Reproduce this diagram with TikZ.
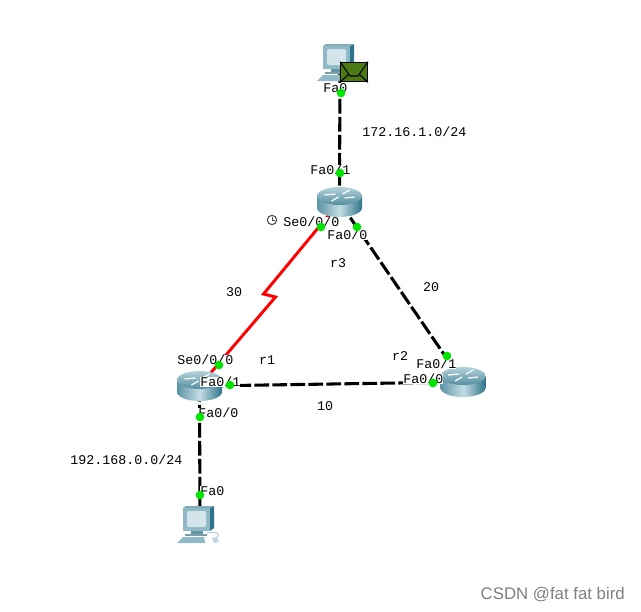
\documentclass[tikz,border=0pt]{standalone}
\usepackage{fontspec}
\setmainfont{Liberation Mono}
\newfontfamily\wmfont{Liberation Sans}
\usetikzlibrary{calc}
\definecolor{tealdk}{HTML}{2F7489}
\definecolor{teallt}{HTML}{C4DDE4}
\definecolor{topc}{HTML}{8FB9C6}
\definecolor{envgreen}{HTML}{4C7A12}
\tikzset{
  lbl/.style={font=\fontsize{10}{10}\selectfont,fill=white,inner sep=0pt,anchor=west,text=black},
  plain/.style={font=\fontsize{10}{10}\selectfont,inner sep=0pt,text=black},
  devicebox/.style={inner sep=0pt,minimum width=1pt,minimum height=1pt},
  eth/.style={black,line width=2.3pt,dash pattern=on 11pt off 2.5pt},
  serial/.style={red,line width=2.2pt},
  port/.style={circle,fill=green!90!black,inner sep=0pt,minimum size=6.5pt},
  routerarrow/.style={white,line width=.9pt}
}
\newcommand{\routericon}[2]{%
\begin{scope}[shift={(#1,#2)}]
  \shade[left color=tealdk!70!teallt,right color=tealdk,middle color=teallt]
    (-22.5,-6) -- (-22.5,6) arc[start angle=180,end angle=0,x radius=22.5,y radius=9] -- (22.5,-6) -- cycle;
  \shade[top color=teallt!70!topc,bottom color=tealdk!75!teallt] (0,-6) ellipse[x radius=22.5,y radius=9];
  \draw[routerarrow] (-15,-7) -- (-4,-8);
  \draw[routerarrow] (15,-5) -- (5,-4);
  \draw[routerarrow] (-1,-5) -- (-8,-1);
  \draw[routerarrow] (3,-8) -- (10,-12);
\end{scope}}
\newcommand{\pcicon}[2]{%
\begin{scope}[shift={(#1,#2)}]
  \fill[tealdk] (10,-17) -- (14,-19) -- (14,3) -- (10,6) -- cycle;
  \fill[tealdk!60!white] (-17,-17) -- (-14,-19) -- (14,-19) -- (10,-17) -- cycle;
  \fill[topc] (-17,-17) rectangle (10,6);
  \fill[teallt!75!white,rounded corners=1.5pt] (-13,-14) rectangle (6,2);
  \fill[tealdk!75!white] (-9,6) rectangle (3,9);
  \fill[topc!85!black] (-15,9) rectangle (7,11);
  \fill[topc] (-17,12) -- (4,12) -- (5,18) -- (-23,18) -- cycle;
  \draw[topc!70!white,line width=.8pt] (7,8) .. controls (16,6) and (22,9) .. (16,13);
  \fill[white!70!tealdk] (12,13) -- (17,12) -- (19,17) -- (14,18) -- cycle;
\end{scope}}
\begin{document}
\begin{tikzpicture}[x=0.75pt,y=-0.75pt]
\useasboundingbox (0,0) rectangle (641,611);
% device anchors
\node[devicebox] (pctop) at (340,62) {};
\node[devicebox] (r3) at (339.5,202) {};
\node[devicebox] (r1) at (199.5,386) {};
\node[devicebox] (r2) at (463,382) {};
\node[devicebox] (pcbot) at (200,525) {};
% connectors
\draw[eth] (pctop) -- (r3);
\draw[eth] (r3) -- (r2);
\draw[eth] (r1) -- (r2);
\draw[eth] (r1) -- (pcbot);
\draw[serial] (r3) -- ($(r3)!0.5!(r1)+(-6,0)$) -- ($(r3)!0.5!(r1)+(6,3)$) -- (r1);
% icons
\pcicon{340}{63}
\routericon{339.5}{202}
\routericon{199.5}{386}
\routericon{463}{382}
\pcicon{200}{525}
% envelope
\node[devicebox,draw=black,line width=1pt,fill=envgreen,minimum width=20pt,minimum height=14.5pt] (mail) at (354,72) {};
\draw[black,line width=.8pt] (mail.north west) -- (350,76) -- (358,76) -- (mail.north east);
\draw[black,line width=.8pt] (mail.south west) -- (349,74);
\draw[black,line width=.8pt] (mail.south east) -- (359,74);
% labels
\node[lbl] (a1) at (323,88) {Fa0};
\node[lbl] (a2) at (310,170) {Fa0/1};
\node[lbl] (a3) at (283,222) {Se0/0/0};
\node[lbl] (a4) at (327,235) {Fa0/0};
\node[lbl] (a5) at (177,360) {Se0/0/0};
\node[lbl] (a6) at (200,382) {Fa0/1};
\node[lbl] (a7) at (198,413) {Fa0/0};
\node[lbl] (a8) at (200,491) {Fa0};
\node[lbl] (a9) at (416,364) {Fa0/1};
\node[lbl] (a10) at (403,379) {Fa0/0};
\node[lbl] (n1) at (362,132) {172.16.1.0/24};
\node[lbl] (n2) at (70,460) {192.168.0.0/24};
\node[plain] (t3) at (338,263) {r3};
\node[plain] (t1) at (267,360) {r1};
\node[plain] (t2) at (400,356) {r2};
\node[plain] (w30) at (234,292) {30};
\node[plain] (w20) at (431,287) {20};
\node[plain] (w10) at (325,406) {10};
% clock
\node[circle,draw=black!70,line width=.8pt,fill=white,minimum size=7pt,inner sep=0pt] (clk) at (272,220) {};
\draw[black!70,line width=.6pt] (clk.center) -- ++(0,-3) (clk.center) -- ++(3,0);
% port lights
\node[port] (p1) at (341,93) {};
\node[port] (p2) at (340,173) {};
\node[port] (p3) at (321,227) {};
\node[port] (p4) at (357,227) {};
\node[port] (p5) at (219,365) {};
\node[port] (p6) at (230,385) {};
\node[port] (p7) at (200,417) {};
\node[port] (p8) at (200,495) {};
\node[port] (p9) at (447,356) {};
\node[port] (p10) at (433,383) {};
% watermark
\node[font=\wmfont\fontsize{12.6}{12.6}\selectfont,text=black!50,inner sep=0pt,anchor=east] (wm) at (625,595) {CSDN @fat fat bird};
\end{tikzpicture}
\end{document}
